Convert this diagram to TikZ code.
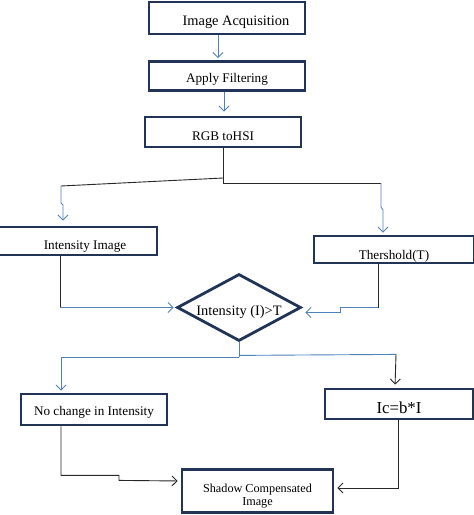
\documentclass[tikz,border=0pt]{standalone}
\usepackage{fontspec}
\setmainfont{Liberation Serif}
\usetikzlibrary{arrows.meta,shapes.geometric,positioning,calc}

\definecolor{boxline}{RGB}{33,52,87}
\definecolor{flowblue}{RGB}{79,129,189}
\definecolor{linkgray}{RGB}{40,40,40}

\tikzset{
  block/.style={draw=boxline,line width=2.8pt,rectangle,minimum width=156pt,minimum height=30pt,inner sep=1pt,text height=14pt,text depth=0pt,font=\fontsize{13.2}{15}\selectfont},
  decision/.style={draw=boxline,line width=2.8pt,diamond,aspect=1.83,minimum width=124pt,minimum height=67pt,inner sep=0pt,text height=15pt,text depth=0pt,font=\fontsize{14.4}{16}\selectfont},
  flow/.style={draw=flowblue,line width=0.9pt},
  link/.style={draw=linkgray,line width=0.9pt}
}

\begin{document}
\begin{tikzpicture}[x=1pt,y=-1pt,>={Straight Barb[length=5pt,width=10pt]},node distance=57pt,on grid]
\useasboundingbox (0,0) rectangle (474,515);
\node[block,minimum height=32pt,font=\fontsize{14.4}{16}\selectfont] (acq) at (227,18) {\hspace*{18pt}Image Acquisition};
\node[block,minimum height=29pt,text height=12pt] (filt) [below=58pt of acq] {Apply Filtering};
\node[block,text height=16pt] (rgb) [below=56pt of filt,xshift=-4pt] {RGB toHSI};
\node[block,minimum width=158pt,minimum height=28pt,text height=17pt] (intimg) at (78,241) {\hspace*{14pt}Intensity Image};
\node[block,minimum width=160pt,minimum height=27pt,text height=19pt] (thr) at (394,249.5) {Thershold(T)};
\node[decision] (dia) at (239,307.5) {Intensity (I)>T};
\node[block,minimum width=146pt,minimum height=31pt,text height=11pt] (noch) at (94,409.5) {No change in Intensity};
\node[block,minimum width=148pt,text height=18pt,font=\fontsize{16.8}{18}\selectfont] (ic) at (399,404) {Ic=b*I};
\node[block,minimum width=151pt,minimum height=43pt,align=center,text height=28pt,text depth=0pt,font=\fontsize{12.2}{13}\selectfont] (shadow) at (257.5,491) {Shadow Compensated\\Image};

% top chain
\draw[flow,->,shorten >=2pt] ([xshift=-9pt]acq.south) -- ([xshift=-9pt]acq.south |- filt.north);
\draw[flow,->,shorten >=4pt] ([xshift=-3pt]filt.south) -- ([xshift=-3pt]filt.south |- rgb.north);

% split after colour conversion
\coordinate (split) at (223,183);
\coordinate (splitL) at (61,186);
\coordinate (splitR) at (381,183);
\draw[link] (rgb.south) -- (split) -- (splitR);
\draw[link] ([yshift=5pt]split) -- (splitL);
\draw[flow,->,shorten >=5pt] (splitL) -- ++(0,17) -- ++(2,2) -- ([xshift=-15pt]intimg.north);
\draw[flow,->,shorten >=2pt] (splitR) -- ++(0,24) -- ++(2,3) -- ([xshift=-11pt]thr.north);

% into the decision
\coordinate (inL) at ([xshift=-18pt]intimg.south |- dia.west);
\draw[link] ([xshift=-18pt]intimg.south) -- (inL);
\draw[flow,->,shorten >=2pt] (inL) -- (dia.west);
\coordinate (inR) at ([xshift=-16pt]thr.south |- dia.east);
\draw[link] ([xshift=-16pt]thr.south) -- (inR);
\draw[flow,->,shorten >=3pt] (inR) -- ++(-38,0) -- ++(0,5) -- ([yshift=-5pt]dia.east);

% out of the decision
\coordinate (outS) at ([yshift=-15pt]dia.south);
\draw[flow] (dia.south) -- (outS);
\draw[flow,->,shorten >=2pt] (outS) -| ([xshift=-33pt]noch.north);
\draw[flow] ([yshift=2pt]outS) -- ++(157,-1) coordinate (outE);
\draw[link,->,shorten >=3pt] (outE) -- ([xshift=-4pt]ic.north);

% into the result
\draw[link,->,shorten >=3pt] ([xshift=-33pt]noch.south) -- ++(0,49) -- ++(58,0) -- ++(0,5) -- ([yshift=10pt]shadow.west);
\draw[link,->,shorten >=3pt] ([xshift=-1pt]ic.south) |- ([yshift=3pt]shadow.east);
\end{tikzpicture}
\end{document}
